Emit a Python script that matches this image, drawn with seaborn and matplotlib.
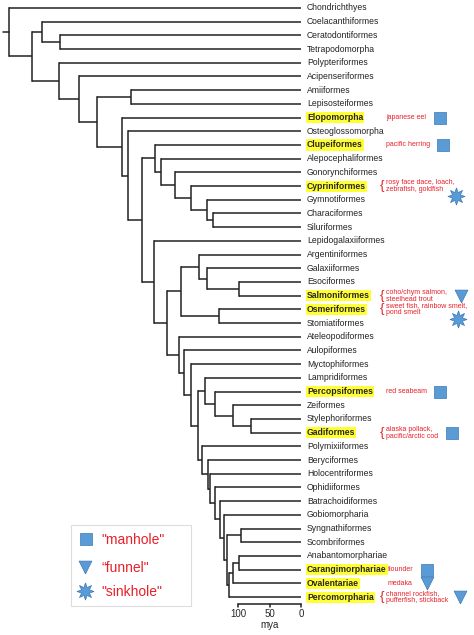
import matplotlib
matplotlib.use("Agg")
import matplotlib.pyplot as plt
import seaborn as sns
import pandas as pd
from matplotlib.patches import Rectangle

sns.set_style("white")
plt.rcParams['font.family'] = ['Liberation Sans', 'DejaVu Sans']

# internal nodes: name, parent, age (mya)
node_names = ["root", "A", "B", "B2", "C", "D", "E", "F", "G", "H", "I", "J", "L", "M", "N", "O", "P",
              "K", "Q", "R", "T", "V", "W", "U", "S", "X", "Y", "Z", "Z1", "Z1a", "Z1b", "Z1c",
              "Z2", "Z3", "Z3b", "Z4", "Z5", "Z6", "Z7", "SS", "Z8", "Z9", "AC"]
node_parents = [None, "root", "A", "B", "A", "C", "D", "E", "E", "G", "H", "I", "J", "L", "M", "N", "O",
                "I", "K", "Q", "R", "T", "V", "R", "Q", "S", "X", "Y", "Z", "Z1", "Z1a", "Z1b",
                "Z", "Z2", "Z3", "Z3b", "Z4", "Z5", "Z6", "Z7", "Z7", "Z8", "Z9"]
node_ages = [463, 427, 411, 383, 384, 352, 324, 270, 284, 275, 252, 232, 222, 200, 175, 149, 140,
             233, 213, 190, 162, 149, 98, 130, 194, 186, 175, 163, 152, 137, 108, 79,
             157, 148, 144, 137, 129, 122, 117, 95, 114, 108, 98]

tips = ["Chondrichthyes", "Coelacanthiformes", "Ceratodontiformes", "Tetrapodomorpha", "Polypteriformes",
        "Acipenseriformes", "Amiiformes", "Lepisosteiformes", "Elopomorpha", "Osteoglossomorpha",
        "Clupeiformes", "Alepocephaliformes", "Gonorynchiformes", "Cypriniformes", "Gymnotiformes",
        "Characiformes", "Siluriformes", "Lepidogalaxiiformes", "Argentiniformes", "Galaxiiformes",
        "Esociformes", "Salmoniformes", "Osmeriformes", "Stomiatiformes", "Ateleopodiformes",
        "Aulopiformes", "Myctophiformes", "Lampridiformes", "Percopsiformes", "Zeiformes",
        "Stylephoriformes", "Gadiformes", "Polymixiiformes", "Beryciformes", "Holocentriformes",
        "Ophidiiformes", "Batrachoidiformes", "Gobiomorpharia", "Syngnathiformes", "Scombriformes",
        "Anabantomorphariae", "Carangimorphariae", "Ovalentariae", "Percomorpharia"]
tip_parents = ["root", "B", "B2", "B2", "C", "D", "F", "F", "G", "H", "J", "L", "M", "N", "O", "P", "P",
               "K", "T", "V", "W", "W", "U", "U", "S", "X", "Y", "Z1", "Z1a", "Z1b", "Z1c", "Z1c", "Z2",
               "Z3", "Z3b", "Z4", "Z5", "Z6", "SS", "SS", "AC", "AC", "Z9", "Z8"]

highlighted = ["Elopomorpha", "Clupeiformes", "Cypriniformes", "Salmoniformes", "Osmeriformes",
               "Percopsiformes", "Gadiformes", "Carangimorphariae", "Ovalentariae", "Percomorpharia"]
note_taxa = ["Elopomorpha", "Clupeiformes", "Cypriniformes", "Salmoniformes", "Osmeriformes",
             "Percopsiformes", "Gadiformes", "Carangimorphariae", "Ovalentariae", "Percomorpharia"]
note_texts = ["japanese eel", "pacific herring", "rosy face dace, loach,\nzebrafish, goldfish",
              "coho/chym salmon,\nsteelhead trout", "sweet fish, rainbow smelt,\npond smelt",
              "red seabeam", "alaska pollack,\npacific/arctic cod", "flounder", "medaka",
              "channel rockfish,\npufferfish, stickback"]
note_icons = ["manhole", "manhole", "sinkhole", "funnel", "sinkhole", "manhole", "manhole",
              "manhole", "funnel", "funnel"]
legend_labels = ['"manhole"', '\u201cfunnel"', '"sinkhole"']

def px2age(px):
    return (301 - px) / 0.63
def py(p):
    return (p - 8) / 13.7

# layout
age = dict(zip(node_names, node_ages))
children = {n: [] for n in node_names}
ypos = {}
for i, (t, p) in enumerate(zip(tips, tip_parents)):
    ypos[t] = i
    age[t] = 0
    children[p].append(t)
for n, p in zip(node_names, node_parents):
    if p is not None:
        children[p].append(n)

def gety(n):
    if n in ypos:
        return ypos[n]
    ys = [gety(c) for c in children[n]]
    ypos[n] = (min(ys) + max(ys)) / 2
    return ypos[n]
gety("root")

fig = plt.figure(figsize=(4.74, 6.35), dpi=100)
ax = fig.add_axes([0, 0, 1, 1])
ax.set_xlim(px2age(0), px2age(474))
ax.set_ylim(py(635), py(0))
ax.axis("off")

lc = "#222222"
lw = 1.1
for n in node_names:
    ys = [ypos[c] for c in children[n]]
    ax.plot([age[n], age[n]], [min(ys), max(ys)], color=lc, lw=lw, solid_capstyle="projecting")
    for c in children[n]:
        ax.plot([age[n], age[c]], [ypos[c], ypos[c]], color=lc, lw=lw, solid_capstyle="butt")
ax.plot([age["root"] + 10, age["root"]], [ypos["root"]] * 2, color=lc, lw=lw)

for i, name in enumerate(tips):
    if name in highlighted:
        ax.text(px2age(307), i, name, fontsize=6.2, fontweight="bold", va="center", ha="left",
                bbox=dict(boxstyle="square,pad=0.12", fc="#ffff33", ec="none"))
    else:
        ax.text(px2age(307), i, name, fontsize=6.2, va="center", ha="left", color=lc)

red = "#e8202a"
blue = "#5b9bd5"
markers = {"manhole": "s", "funnel": "v", "sinkhole": (8, 1, 0)}
sizes = {"manhole": 70, "funnel": 85, "sinkhole": 150}
icon_px = [440, 443, 456, 461, 458, 440, 452, 427, 427, 460]
rows = []
for k, (name, note, kind) in enumerate(zip(note_taxa, note_texts, note_icons)):
    i = tips.index(name)
    if "\n" in note:
        ax.text(px2age(380), i, "{", fontsize=9.5, color=red, va="center", ha="left", fontweight="light")
        ax.text(px2age(386), i, note, fontsize=5.0, color=red, va="center", ha="left", linespacing=0.95)
    else:
        xx = 388 if name in ("Carangimorphariae", "Ovalentariae") else 386
        ax.text(px2age(xx), i, note, fontsize=5.0, color=red, va="center", ha="left")
    rows.append({"x": px2age(icon_px[k]), "y": i + (0.7 if kind == "sinkhole" else 0), "kind": kind})
icons = pd.DataFrame(rows)
for kind, g in icons.groupby("kind"):
    sns.scatterplot(data=g, x="x", y="y", marker=markers[kind], s=sizes[kind], color=blue,
                    edgecolor="#3a78b8", linewidth=0.5, ax=ax, legend=False)

# scale bar
ybar = py(604)
ax.plot([100, 0], [ybar, ybar], color=lc, lw=lw)
for t in [100, 50, 0]:
    ax.plot([t, t], [ybar, ybar + 0.25], color=lc, lw=lw)
    ax.text(t, py(614), str(t), fontsize=7, ha="center", va="center")
ax.text(50, py(625), "mya", fontsize=7, ha="center", va="center")

# legend box
ax.add_patch(Rectangle((px2age(71), py(525)), px2age(191) - px2age(71), py(606) - py(525),
                       fill=False, ec="#dddddd", lw=0.8))
leg_kinds = ["manhole", "funnel", "sinkhole"]
leg_x = [86, 85, 85]
leg_y = [539, 567, 591]
for kind, lx, ly, lab in zip(leg_kinds, leg_x, leg_y, legend_labels):
    ax.scatter(px2age(lx), py(ly), marker=markers[kind], s=sizes[kind], color=blue,
               edgecolor="#3a78b8", linewidth=0.5)
    ax.text(px2age(101), py(ly + 1), lab, fontsize=10, color=red, va="center", ha="left")

fig.savefig("out.png", dpi=100)
